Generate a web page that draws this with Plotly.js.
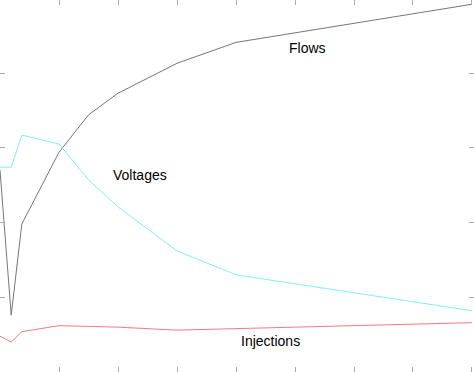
<!DOCTYPE html>
<html>
<head>
<meta charset="utf-8">
<script src="https://cdn.plot.ly/plotly-3.0.1.min.js"></script>
<style>html,body{margin:0;padding:0;background:#fff;}#chart{width:474px;height:372px;}</style>
</head>
<body>
<div id="chart"></div>
<script>
// Shared x positions (time steps)
const xSteps = [0, 0.19, 0.37, 1, 1.5, 2, 3, 4, 8];
const flows = [2.70, 0.76, 1.98, 2.94, 3.44, 3.73, 4.13, 4.41, 4.92];
const voltages = [2.74, 2.74, 3.17, 3.05, 2.57, 2.21, 1.62, 1.30, 0.82];
const injections = [0.48, 0.40, 0.54, 0.62, 0.61, 0.60, 0.56, 0.58, 0.66];
const labels = ["Flows", "Voltages", "Injections"];
const labelX = [5.22, 2.37, 4.59];
const labelY = [4.33, 2.64, 0.42];

const traces = [
  {x: xSteps, y: flows, mode: 'lines', line: {color: '#767676', width: 1}, name: labels[0]},
  {x: xSteps, y: voltages, mode: 'lines', line: {color: '#7ff0f0', width: 1}, name: labels[1]},
  {x: xSteps, y: injections, mode: 'lines', line: {color: '#f27a85', width: 1}, name: labels[2]}
];

const annotations = labels.map((t, i) => ({
  x: labelX[i], y: labelY[i], text: t, showarrow: false,
  font: {family: 'Liberation Sans, Arial, sans-serif', size: 14, color: '#000'}
}));

const axisCommon = {
  showgrid: false, zeroline: false, showline: false, showticklabels: false,
  ticks: 'inside', ticklen: 5, tickwidth: 1, tickcolor: '#aaa', mirror: 'ticks', dtick: 1, tick0: 0
};

Plotly.newPlot('chart', traces, {
  width: 474, height: 372,
  margin: {l: 0, r: 0, t: 0, b: 0, pad: 0},
  paper_bgcolor: '#fff', plot_bgcolor: '#fff',
  showlegend: false,
  xaxis: Object.assign({}, axisCommon, {range: [0, 8.034]}),
  yaxis: Object.assign({}, axisCommon, {range: [0, 4.977]}),
  annotations: annotations
}, {staticPlot: true, displayModeBar: false});
</script>
</body>
</html>
